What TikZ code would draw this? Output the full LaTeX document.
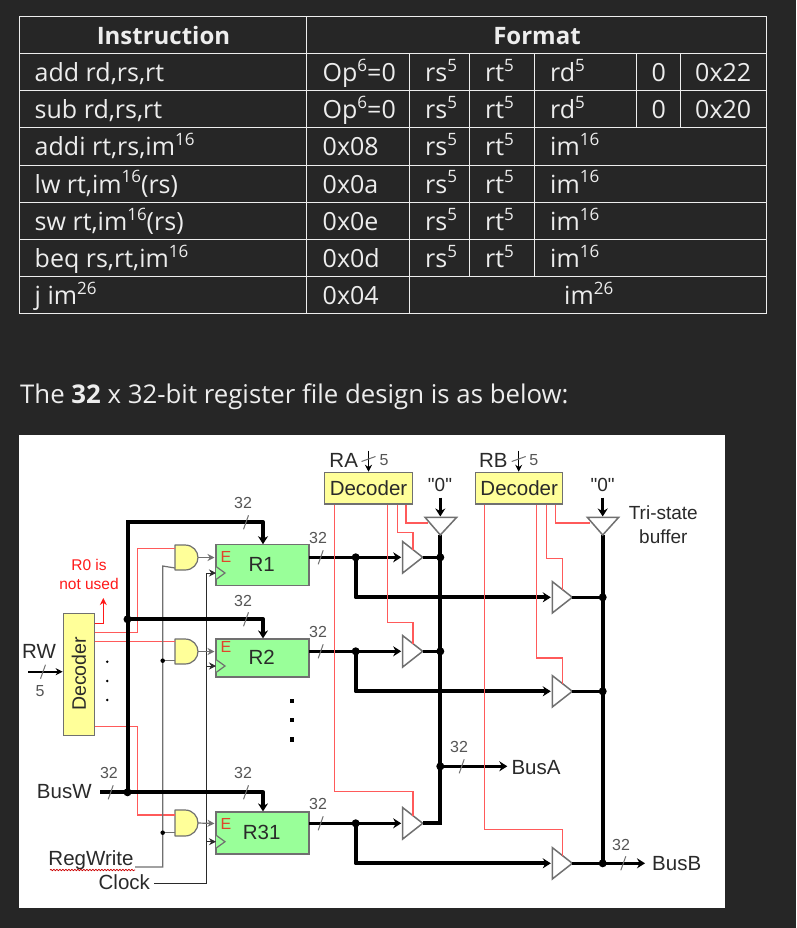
\documentclass[tikz,border=0pt]{standalone}
\usepackage{fontspec}
\setmainfont{Open Sans}
\newfontfamily\dgf{Liberation Sans}
\usetikzlibrary{arrows.meta,decorations.pathmorphing}
\definecolor{bgd}{HTML}{262626}
\definecolor{tbl}{HTML}{EDEDED}
\definecolor{ink}{HTML}{2A2A2A}
\definecolor{wirer}{HTML}{FF5A5A}
\definecolor{grn}{HTML}{99FF99}
\definecolor{ylw}{HTML}{FFFF99}
\definecolor{edgeg}{HTML}{707070}
\definecolor{eorange}{HTML}{E0452A}
\newcommand{\su}[1]{\raisebox{0.42em}{\fontsize{17pt}{17pt}\selectfont #1}}
\tikzset{
  tt/.style={anchor=base west,inner sep=0pt,text=tbl,font=\fontsize{25pt}{25pt}\selectfont},
  th/.style={anchor=base,inner sep=0pt,text=tbl,font=\fontsize{24pt}{25pt}\selectfont\bfseries},
  tline/.style={draw=tbl,line width=0.9pt},
  lab/.style={inner sep=0pt,text=ink,font=\dgf\fontsize{20.5pt}{21pt}\selectfont},
  num/.style={inner sep=0pt,text=ink!80,font=\dgf\fontsize{16pt}{17pt}\selectfont},
  reg/.style={draw=edgeg,fill=grn,line width=1.2pt,inner sep=0pt,minimum width=93pt},
  dec/.style={draw=edgeg,fill=ylw,line width=1.2pt,inner sep=0pt},
  gate/.style={draw=edgeg,fill=ylw,line width=1.2pt,line join=round},
  tri/.style={draw=edgeg,fill=white,line width=1.5pt,line join=miter},
  bus/.style={draw=black,line width=4pt},
  obus/.style={draw=black,line width=3.2pt},
  bustip/.style={-{Stealth[length=8pt,width=10pt]}},
  thin wire/.style={draw=edgeg,line width=1.2pt},
  clk/.style={draw=ink,line width=0.9pt},
  redw/.style={draw=wirer,line width=1.3pt},
  slash/.style={draw=edgeg,line width=1pt},
  dots/.style={circle,fill=black,inner sep=0pt,minimum size=#1},
}
% AND gate
\newcommand{\andg}[4]{% name, x, ytop, ybot
  \coordinate (#1-o) at (#2+23,{(#3+#4)/2});
  \path[gate] (#2,#3) -- (#2+10,#3) .. controls (#2+18,#3) and (#2+23,{#3+(#4-#3)*0.25}) .. (#2+23,{(#3+#4)/2})
     .. controls (#2+23,{#3+(#4-#3)*0.75}) and (#2+18,#4) .. (#2+10,#4) -- (#2,#4) -- cycle;}
% Tri-state pointing right
\newcommand{\trir}[3]{% name, xleft, ymid
  \coordinate (#1-i) at (#2-1.5,#3);
  \coordinate (#1-o) at (#2+20,#3);
  \path[tri] (#2,#3-15.7) -- (#2+20,#3) -- (#2,#3+15.7) -- cycle;}
\newcommand{\slh}[2]{\draw[slash] (#1-2.5,#2+7) -- (#1+2.5,#2-7);}
\newcommand{\slv}[2]{\draw[slash] (#1-7,#2+2.5) -- (#1+7,#2-2.5);}
\begin{document}
\begin{tikzpicture}[x=1pt,y=-1pt]
\useasboundingbox (0,0) rectangle (796,928);
\fill[bgd] (0,0) rectangle (796,928);
% ---------- table
\draw[tline] (19.5,16.5) rectangle (766.5,313.5);
\foreach \yy in {53.5,90.5,127.5,165.5,202.5,239.5,276.5} \draw[tline] (19.5,\yy) -- (766.5,\yy);
\draw[tline] (306.5,16.5) -- (306.5,313.5);
\draw[tline] (409.5,53.5) -- (409.5,313.5);
\draw[tline] (469.5,53.5) -- (469.5,276.5);
\draw[tline] (534.5,53.5) -- (534.5,276.5);
\draw[tline] (636.5,53.5) -- (636.5,127.5);
\draw[tline] (680.5,53.5) -- (680.5,127.5);
\node[th] (hi) at (163.5,45) {Instruction};
\node[th] (hf) at (537,45) {Format};
\node[tt] (a1) at (34.5,82) {add rd,rs,rt};
\node[tt] (a2) at (34.5,119) {sub rd,rs,rt};
\node[tt] (a3) at (34.5,156) {addi rt,rs,im\su{16}};
\node[tt] (a4) at (34.5,193.3) {lw rt,im\su{16}(rs)};
\node[tt] (a5) at (34.5,230.5) {sw rt,im\su{16}(rs)};
\node[tt] (a6) at (34.5,267.7) {beq rs,rt,im\su{16}};
\node[tt] (a7) at (34.5,304.7) {j im\su{26}};
\node[tt] (b1) at (322.5,82) {Op\su{6}=0};
\node[tt] (b2) at (322.5,119) {Op\su{6}=0};
\node[tt] (b3) at (322.5,156) {0x08};
\node[tt] (b4) at (322.5,193.3) {0x0a};
\node[tt] (b5) at (322.5,230.5) {0x0e};
\node[tt] (b6) at (322.5,267.7) {0x0d};
\node[tt] (b7) at (322.5,304.7) {0x04};
\foreach \nn/\yy in {1/82,2/119,3/156,4/193.3,5/230.5,6/267.7}{
  \node[tt] (c\nn) at (425,\yy) {rs\su{5}};
  \node[tt] (d\nn) at (485,\yy) {rt\su{5}};
}
\node[tt] (e1) at (550,82) {rd\su{5}};
\node[tt] (e2) at (550,119) {rd\su{5}};
\node[tt] (e3) at (550,156) {im\su{16}};
\node[tt] (e4) at (550,193.3) {im\su{16}};
\node[tt] (e5) at (550,230.5) {im\su{16}};
\node[tt] (e6) at (550,267.7) {im\su{16}};
\node[tt] (e7) at (564,304.7) {im\su{26}};
\node[tt] (f1) at (651.5,82) {0};
\node[tt] (f2) at (651.5,119) {0};
\node[tt] (g1) at (695,82) {0x22};
\node[tt] (g2) at (695,119) {0x20};
\node[tt,font=\fontsize{25.8pt}{26pt}\selectfont] (cap) at (20,403) {The \textbf{32} x 32-bit register file design is as below:};
% ---------- white panel
\fill[white] (19,435) rectangle (725,908);
% named points
\coordinate (tl) at (127.5,522.3);
\coordinate (tr) at (263,522.3);
\coordinate (ml) at (127.5,619.3);
\coordinate (mr) at (263,619.3);
\coordinate (wl) at (100,792.3);
\coordinate (wj) at (127.5,792.3);
\coordinate (wr) at (263,792.3);
\coordinate (regw) at (135,867);
\coordinate (regc) at (162.7,867);
\coordinate (regt) at (162.7,566);
\coordinate (clkl) at (154,883);
\coordinate (clkc) at (206,883);
\coordinate (clk1) at (206,573);
\coordinate (rwi) at (28,671.7);
% nodes
\node[reg,minimum height=41pt] (R1) at (262.5,565.3) {};
\node[reg,minimum height=38pt] (R2) at (262.5,658) {};
\node[reg,minimum height=42pt] (R31) at (262.5,833) {};
\node[dec,minimum width=31.5pt,minimum height=122pt] (DW) at (79,674.3) {};
\node[dec,minimum width=88.5pt,minimum height=31.7pt] (DA) at (368.5,488.2) {};
\node[dec,minimum width=87pt,minimum height=31.7pt] (DB) at (519.2,488.2) {};
\node[lab,rotate=90,font=\dgf\fontsize{19.5pt}{20pt}\selectfont] (DWt) at (79,674) {Decoder};
\node[lab] (DAt) at (368.5,488.5) {Decoder};
\node[lab] (DBt) at (519.2,488.5) {Decoder};
% clock triangles
\foreach \yy in {573,666,841.7}{
  \draw[draw=edgeg,line width=1.2pt,fill=grn] (216,\yy-6.5) -- (225,\yy) -- (216,\yy+6.5);
}
% left red wires (under buses)
\coordinate (r0a) at (94.7,623.3);
\coordinate (r0b) at (103.3,623.3);
\coordinate (r0c) at (103.3,598);
\draw[draw=red!90,line width=1.3pt,-{Stealth[length=7pt,width=7pt]}] (r0a) -- (r0b) -- (r0c);
\andg{G1}{175}{545}{570}
\andg{G2}{175}{639}{664}
\andg{G3}{175}{810}{836}
\coordinate (r1a) at (94.7,632.3);
\coordinate (r1b) at (137.3,632.3);
\coordinate (r1c) at (137.3,548.3);
\coordinate (r1d) at (175,548.3);
\draw[redw] (r1a) -- (r1b) -- (r1c) -- (r1d);
\coordinate (r2a) at (94.7,641.3);
\coordinate (r2d) at (175,641.3);
\draw[redw] (r2a) -- (r2d);
\coordinate (r3a) at (94.7,726.3);
\coordinate (r3b) at (137.3,726.3);
\coordinate (r3c) at (137.3,815);
\coordinate (r3d) at (175,815);
\draw[redw] (r3a) -- (r3b) -- (r3c) -- (r3d);
% thin control lines
\draw[thin wire] (regw) -- (regc) -- (regt) -- (175,568);
\coordinate (j2) at (162.7,660.7);
\coordinate (j3) at (162.7,832.7);
\draw[thin wire] (j2) -- (175,660.7);
\draw[thin wire] (j3) -- (175,832.7);
\node[dots=4.5pt] (jd2) at (j2) {};
\node[dots=4.5pt] (jd3) at (j3) {};
\draw[clk] (clkl) -- (clkc) -- (clk1);
\foreach \yy/\nn in {573/1,666/2,841.7/3}{
  \coordinate (ci\nn) at (216,\yy);
  \coordinate (cs\nn) at (206,\yy);
  \draw[clk,-{Stealth[length=7pt,width=7pt]}] (cs\nn) -- (ci\nn);
}
\foreach \gg/\rr/\yy in {G1/a/557.5,G2/b/651.5,G3/c/823.5}{
  \coordinate (en\rr) at (214.5,\yy);
  \draw[thin wire,-{Stealth[length=7pt,width=7pt]}] (\gg-o) -- (en\rr);
}
% W buses
\draw[bus,line cap=butt] (tl) ++(0,-2) -- (wj);
\draw[bus,line join=round,bustip] (tl) -- (tr) -- (R1.north -| tr);
\draw[bus,line join=round,bustip] (ml) -- (mr) -- (R2.north -| mr);
\draw[bus,line join=round,bustip] (wl) -- (wr) -- (R31.north -| wr);
\node[dots=8pt] (jm) at (ml) {};
\node[dots=8pt] (jw) at (wj) {};
\slh{246}{522.3} \slh{246}{619.3} \slh{246}{792.3} \slh{110.7}{792.3}
\draw[draw=black,line width=1.6pt,-{Stealth[length=7pt,width=7pt]}] (rwi) -- (DW.west |- rwi);
\slh{43}{671.7}
% tri-states
\trir{A1}{402.7}{557.3}
\trir{A2}{402.7}{651.3}
\trir{A3}{402.7}{823.3}
\trir{B1}{552.3}{597.3}
\trir{B2}{552.3}{691.3}
\trir{B3}{552.3}{863.3}
\foreach \nn/\yy in {1/557.3,2/651.3,3/823.3}{
  \coordinate (ro\nn) at (309,\yy);
  \coordinate (rj\nn) at (355.7,\yy);
}
\foreach \nn/\yy in {1/597.3,2/691.3,3/863.3}{
  \coordinate (rk\nn) at (355.7,\yy);
}
\foreach \nn in {1,2,3}{
  \draw[obus,bustip] (ro\nn) -- (A\nn-i);
  \draw[bus,bustip,line join=round] (rj\nn) -- (rk\nn) -- (B\nn-i);
  \node[dots=8pt] (rjd\nn) at (rj\nn) {};
}
% inverted top tri-states
\coordinate (ta) at (440.3,535);
\coordinate (tb) at (602.7,535);
\coordinate (abot) at (440.3,823.3);
\coordinate (bbot) at (602.7,863.3);
\coordinate (za) at (440.3,497.7);
\coordinate (zb) at (602.7,497.7);
\coordinate (tai) at (440.3,516.5);
\coordinate (tbi) at (602.7,516.5);
\draw[bus] (ta) -- (abot) -- (A3-o);
\draw[bus] (tb) -- (bbot);
\draw[obus] (A1-o) -- (A1-o -| ta);
\draw[obus] (A2-o) -- (A2-o -| ta);
\draw[obus] (B1-o) -- (B1-o -| tb);
\draw[obus] (B2-o) -- (B2-o -| tb);
\path[tri] (425,517.3) -- (456.7,517.3) -- (ta) -- cycle;
\path[tri] (587.3,517.3) -- (618.7,517.3) -- (tb) -- cycle;
\draw[obus,-{Stealth[length=8pt,width=10pt]}] (za) -- (tai);
\draw[obus,-{Stealth[length=8pt,width=10pt]}] (zb) -- (tbi);
\foreach \nn/\xx/\yy in {a/440.3/557.3,b/440.3/651.3,c/602.7/597.3,d/602.7/691.3,e/602.7/863.3}{
  \node[dots=8pt] (jq\nn) at (\xx,\yy) {};
}
% outputs
\coordinate (bao) at (507.3,766.3);
\node[dots=8pt] (jba) at (440.3,766.3) {};
\draw[obus,bustip] (jba.center) -- (bao);
\coordinate (bbo) at (645,863.3);
\draw[obus,bustip] (B3-o) -- (bbo);
\slh{461.7}{766.3} \slh{623.3}{863.3}
\slh{320.7}{557.3} \slh{320.7}{651.3} \slh{320.7}{823.3}
% right red wires
\coordinate (a1b) at (406,523); \coordinate (a1c) at (428.3,523);
\draw[redw] (DA.south -| a1b) -- (a1b) -- (a1c);
\coordinate (a2b) at (397.3,532.3); \coordinate (a2c) at (413,532.3); \coordinate (a2d) at (413,549.5);
\draw[redw] (DA.south -| a2b) -- (a2b) -- (a2c) -- (a2d);
\coordinate (a3b) at (387.3,622.7); \coordinate (a3c) at (413,622.7); \coordinate (a3d) at (413,643.5);
\draw[redw] (DA.south -| a3b) -- (a3b) -- (a3c) -- (a3d);
\coordinate (a4b) at (334.7,791.7); \coordinate (a4c) at (413,791.7); \coordinate (a4d) at (413,815.5);
\draw[redw] (DA.south -| a4b) -- (a4b) -- (a4c) -- (a4d);
\coordinate (b1b) at (555.7,523); \coordinate (b1c) at (590,523);
\draw[redw] (DB.south -| b1b) -- (b1b) -- (b1c);
\coordinate (b2b) at (546.7,558.3); \coordinate (b2c) at (562.7,558.3); \coordinate (b2d) at (562.7,589.5);
\draw[redw] (DB.south -| b2b) -- (b2b) -- (b2c) -- (b2d);
\coordinate (b3b) at (536.7,658); \coordinate (b3c) at (562.7,658); \coordinate (b3d) at (562.7,683.5);
\draw[redw] (DB.south -| b3b) -- (b3b) -- (b3c) -- (b3d);
\coordinate (b4b) at (484.3,829.3); \coordinate (b4c) at (562.7,829.3); \coordinate (b4d) at (562.7,855.5);
\draw[redw] (DB.south -| b4b) -- (b4b) -- (b4c) -- (b4d);
% decoder inputs
\coordinate (dai) at (368.5,450.7);
\coordinate (dbi) at (518.7,450.7);
\draw[draw=black,line width=1.2pt,-{Stealth[length=7pt,width=7pt]}] (dai) -- (DA.north);
\draw[draw=black,line width=1.2pt,-{Stealth[length=7pt,width=7pt]}] (dbi) -- (DB.north -| dbi);
\slv{368.5}{459} \slv{518.7}{459}
% labels
\node[lab] (tRA) at (343.7,460) {RA};
\node[lab] (tRB) at (493.3,460) {RB};
\node[num] (t5a) at (384,460) {5};
\node[num] (t5b) at (533.7,460) {5};
\node[lab,font=\dgf\fontsize{19pt}{20pt}\selectfont] (t0a) at (440,485) {"0"};
\node[lab,font=\dgf\fontsize{19pt}{20pt}\selectfont] (t0b) at (602.7,485) {"0"};
\node[lab,align=center,font=\dgf\fontsize{19pt}{24.5pt}\selectfont] (ttri) at (663.3,524.5) {Tri-state\\buffer};
\node[lab,align=center,text=red!90,font=\dgf\fontsize{15.5pt}{19pt}\selectfont] (tr0) at (89,574.5) {R0 is\\not used};
\node[lab] (tRW) at (39,651) {RW};
\node[num] (t5w) at (40,691) {5};
\node[lab] (tbw) at (64.3,792) {BusW};
\node[lab] (treg) at (91,860) {RegWrite};
\draw[draw=red!80!black,line width=0.7pt,decorate,decoration={snake,amplitude=0.7pt,segment length=3pt}] (50,870) -- (135,870);
\node[lab] (tclk) at (124.3,882.5) {Clock};
\node[lab] (tbusa) at (536,767.5) {BusA};
\node[lab] (tbusb) at (676.7,864) {BusB};
\node[lab] (tr1) at (261.7,564.5) {R1};
\node[lab] (tr2) at (261.7,657) {R2};
\node[lab] (tr3) at (261.7,832) {R31};
\foreach \nn/\yy in {a/557,b/647,c/824}{
  \node[lab,text=eorange,font=\dgf\fontsize{16pt}{17pt}\selectfont] (tE\nn) at (226,\yy) {E};
}
\foreach \nn/\xx/\yy in {a/243/503.3,b/243/600.7,c/243/773.3,d/109/773.3,e/318/538.3,f/318/632,g/318/804.3,h/459/747.3,i/621/845}{
  \node[num] (n\nn) at (\xx,\yy) {32};
}
\foreach \nn/\yy in {a/661.7,b/681,c/700}{ \node[dots=2.8pt] (vd\nn) at (107.3,\yy) {}; }
\foreach \nn/\yy in {a/701,b/720,c/739.3}{ \node[rectangle,fill=black,inner sep=0pt,minimum size=4.5pt] (hd\nn) at (292,\yy) {}; }
\end{tikzpicture}
\end{document}
